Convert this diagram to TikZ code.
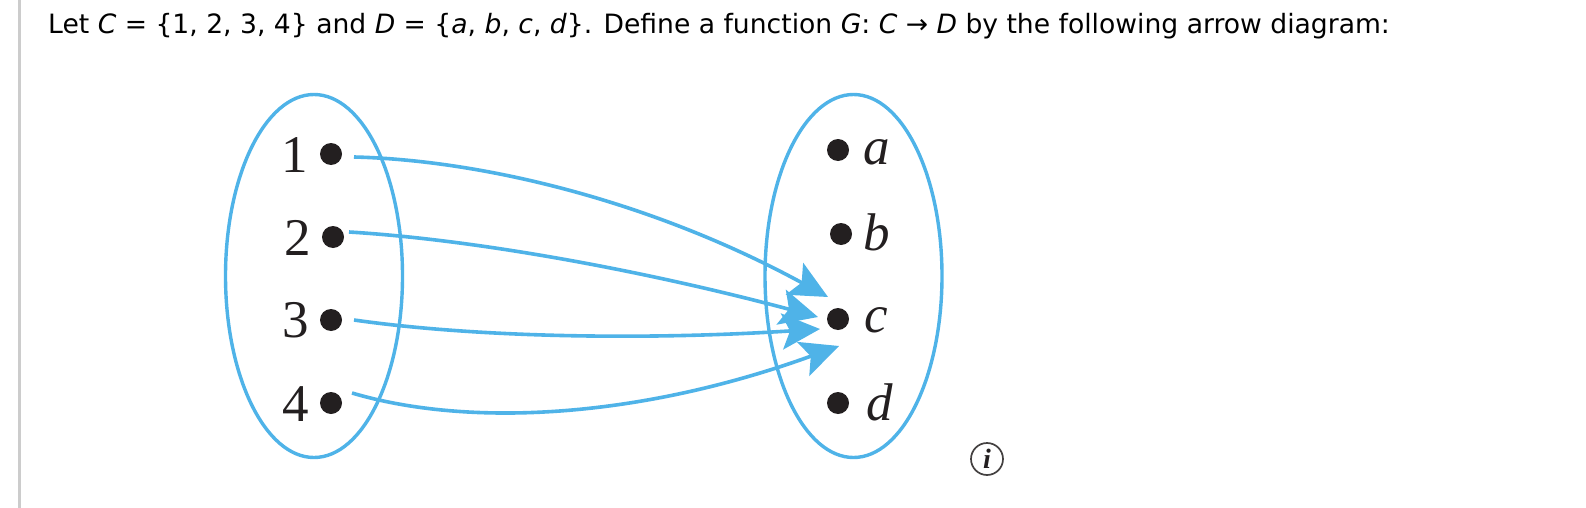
\documentclass[tikz,border=0pt]{standalone}
\usepackage{fontspec}
\setmainfont{Liberation Serif}
\newfontfamily\uifont{DejaVu Sans}
\usetikzlibrary{arrows.meta,shapes.geometric}
\definecolor{setblue}{HTML}{4FB3E8}
\definecolor{ink}{HTML}{231F20}
\definecolor{rulegrey}{HTML}{CCCCCC}
\tikzset{
  setoval/.style={draw=setblue,line width=3.4pt,ellipse,minimum width=177pt,minimum height=363pt,inner sep=0pt},
  blob/.style={circle,fill=ink,minimum size=22pt,inner sep=0pt},
  elem/.style={text=ink,font=\fontsize{53}{53}\selectfont,inner sep=0pt},
  maparrow/.style={draw=setblue,line width=3.6pt,-{Stealth[length=38pt,width=36pt,inset=8pt,fill=setblue]}},
  headline/.style={anchor=base west,inner sep=0pt,font=\uifont\fontsize{26.6}{28}\selectfont,text=black},
  infoicon/.style={circle,draw=ink!85,line width=1.7pt,minimum size=32pt,inner sep=0pt,font=\bfseries\itshape\fontsize{28}{28}\selectfont,text=ink}
}
\begin{document}
\begin{tikzpicture}[x=1pt,y=-1pt]
\useasboundingbox (0,0) rectangle (1586,508);
\fill[white] (0,0) rectangle (1586,508);
\fill[rulegrey] (18,0) rectangle (21,508);
\node[headline] (title) at (48,34) {Let \textit{C} = \{1, 2, 3, 4\} and \textit{D} = \{\textit{a}, \textit{b}, \textit{c}, \textit{d}\}. Define a function \textit{G}: \textit{C} → \textit{D} by the following arrow diagram:};
\node[setoval] (setC) at (314,276) {};
\node[setoval] (setD) at (853.5,276) {};
\node[blob] (p1) at (331,154) {};
\node[blob] (p2) at (333,237) {};
\node[blob] (p3) at (331,320) {};
\node[blob] (p4) at (331,403) {};
\node[blob] (qa) at (838,150) {};
\node[blob] (qb) at (841,234) {};
\node[blob] (qc) at (838,319) {};
\node[blob] (qd) at (838,403) {};
\node[elem] (l1) at (295,155) {1};
\node[elem] (l2) at (298,238) {2};
\node[elem] (l3) at (296,320) {3};
\node[elem] (l4) at (296,404) {4};
\node[elem,font=\itshape\fontsize{53}{53}\selectfont] (la) at (877,152) {a};
\node[elem,font=\itshape\fontsize{53}{53}\selectfont] (lb) at (877,232) {b};
\node[elem,font=\itshape\fontsize{53}{53}\selectfont] (lc) at (876,320) {c};
\node[elem,font=\itshape\fontsize{53}{53}\selectfont] (ld) at (880,402) {d};
\coordinate (s1) at (354,157);
\coordinate (s2) at (349,232);
\coordinate (s3) at (354,320);
\coordinate (s4) at (352,393);
\coordinate (t1) at (828,297);
\coordinate (t2) at (818,317);
\coordinate (t3) at (820,329);
\coordinate (t4) at (839,346);
\draw[maparrow] (s1) .. controls (480,160) and (650,200) .. (t1);
\draw[maparrow] (s2) .. controls (480,240) and (650,272) .. (t2);
\draw[maparrow] (s3) .. controls (480,338) and (650,340) .. (t3);
\draw[maparrow] (s4) .. controls (470,428) and (640,418) .. (t4);
\node[infoicon] (info) at (987,459) {i};
\end{tikzpicture}
\end{document}
